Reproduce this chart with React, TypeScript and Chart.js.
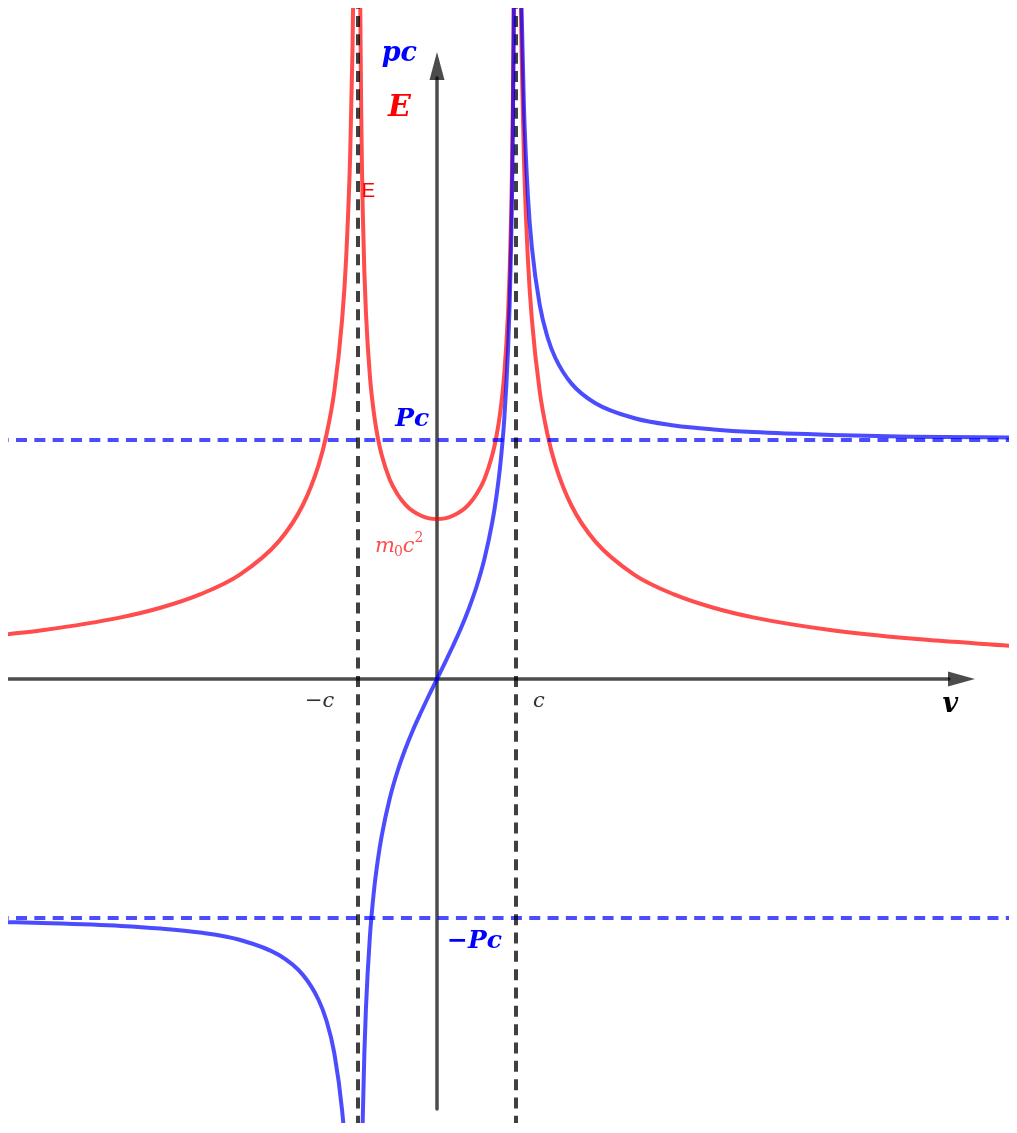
import React, { useEffect, useRef } from "react";
import { Chart, registerables } from "chart.js";
Chart.register(...registerables);

// Units: velocity v in units of c, energy E and momentum pc in units of Pc.
const X_MIN = -5.4304;
const X_MAX = 7.2405;
const Y_MIN = -1.8577;
const Y_MAX = 2.8075;

// |v| < c branch
const vInner = [-0.98, -0.975, -0.97, -0.96, -0.95, -0.94, -0.92, -0.9, -0.85, -0.8, -0.75, -0.7, -0.6, -0.5, -0.4, -0.3, -0.2, -0.1, 0, 0.1, 0.2, 0.3, 0.4, 0.5, 0.6, 0.7, 0.75, 0.8, 0.85, 0.9, 0.92, 0.94, 0.95, 0.96, 0.97, 0.975, 0.98];
const eInner = [3.362, 3.011, 2.752, 2.389, 2.143, 1.961, 1.707, 1.535, 1.27, 1.115, 1.011, 0.937, 0.836, 0.773, 0.73, 0.701, 0.683, 0.672, 0.669, 0.672, 0.683, 0.701, 0.73, 0.773, 0.836, 0.937, 1.011, 1.115, 1.27, 1.535, 1.707, 1.961, 2.143, 2.389, 2.752, 3.011, 3.362];
const pInner = [-3.295, -2.936, -2.669, -2.294, -2.035, -1.843, -1.571, -1.381, -1.08, -0.892, -0.759, -0.656, -0.502, -0.386, -0.292, -0.21, -0.137, -0.067, 0, 0.067, 0.137, 0.21, 0.292, 0.386, 0.502, 0.656, 0.759, 0.892, 1.08, 1.381, 1.571, 1.843, 2.035, 2.294, 2.669, 2.936, 3.295];

// v < -c branch
const vLeft = [-5.5, -5.0, -4.0, -3.5, -3.0, -2.5, -2.0, -1.7, -1.5, -1.4, -1.3, -1.2, -1.15, -1.1, -1.07, -1.05, -1.03];
const eLeft = [0.185, 0.204, 0.258, 0.298, 0.354, 0.436, 0.577, 0.727, 0.894, 1.021, 1.204, 1.508, 1.761, 2.182, 2.627, 3.123, 4.052];
const pLeft = [-1.017, -1.021, -1.033, -1.044, -1.061, -1.091, -1.155, -1.237, -1.342, -1.429, -1.565, -1.809, -2.025, -2.4, -2.811, -3.28, -4.174];

// v > c branch
const vRight = [1.03, 1.05, 1.07, 1.1, 1.15, 1.2, 1.3, 1.4, 1.5, 1.7, 2.0, 2.5, 3.0, 3.5, 4.0, 5.0, 6.0, 7.3];
const eRight = [4.052, 3.123, 2.627, 2.182, 1.761, 1.508, 1.204, 1.021, 0.894, 0.727, 0.577, 0.436, 0.354, 0.298, 0.258, 0.204, 0.169, 0.138];
const pRight = [4.174, 3.28, 2.811, 2.4, 2.025, 1.809, 1.565, 1.429, 1.342, 1.237, 1.155, 1.091, 1.061, 1.044, 1.033, 1.021, 1.014, 1.01];

// asymptotes
const cLines = [-1, 1];
const pcLines = [1, -1];

// axes extents
const X_AXIS_END = 6.81;
const Y_AXIS_START = -1.799;
const Y_AXIS_END = 2.623;

const BLUE = "rgba(0,0,255,0.7)";
const RED = "rgba(255,0,0,0.7)";
const GREY = "rgba(0,0,0,0.7)";
const DASH_GREY = "rgba(0,0,0,0.75)";

const pts = (xs: number[], ys: number[]) => xs.map((x, i) => ({ x, y: ys[i] }));

const curve = (data: any, color: string, order: number) => ({
  data,
  borderColor: color,
  borderWidth: 4,
  pointRadius: 0,
  fill: false,
  cubicInterpolationMode: "monotone",
  order,
});

const axesPlugin = {
  id: "axesPlugin",
  beforeDatasetsDraw(chart: any) {
    const { ctx } = chart;
    const xs = chart.scales.x;
    const ys = chart.scales.y;
    const ox = xs.getPixelForValue(0);
    const oy = ys.getPixelForValue(0);
    const xTip = xs.getPixelForValue(X_AXIS_END);
    const yTip = ys.getPixelForValue(Y_AXIS_END);
    const yBot = ys.getPixelForValue(Y_AXIS_START);
    ctx.save();
    ctx.strokeStyle = GREY;
    ctx.fillStyle = GREY;
    ctx.lineWidth = 3.5;
    ctx.lineCap = "round";
    ctx.beginPath();
    ctx.moveTo(0, oy);
    ctx.lineTo(xTip - 26, oy);
    ctx.stroke();
    ctx.beginPath();
    ctx.moveTo(xTip, oy);
    ctx.lineTo(xTip - 27, oy - 7.5);
    ctx.lineTo(xTip - 27, oy + 7.5);
    ctx.closePath();
    ctx.fill();
    ctx.beginPath();
    ctx.moveTo(ox, yBot);
    ctx.lineTo(ox, yTip + 26);
    ctx.stroke();
    ctx.beginPath();
    ctx.moveTo(ox, yTip);
    ctx.lineTo(ox - 7.5, yTip + 28);
    ctx.lineTo(ox + 7.5, yTip + 28);
    ctx.closePath();
    ctx.fill();
    ctx.restore();
  },
};

const SERIF = "'DejaVu Serif', 'Liberation Serif', serif";

const labelsPlugin = {
  id: "labelsPlugin",
  afterDatasetsDraw(chart: any) {
    const { ctx } = chart;
    const xs = chart.scales.x;
    const ys = chart.scales.y;
    const P = (x: number, y: number) => [xs.getPixelForValue(x), ys.getPixelForValue(y)];
    const text = (s: string, x: number, y: number, font: string, color: string) => {
      const [px, py] = P(x, y);
      ctx.font = font;
      ctx.fillStyle = color;
      ctx.fillText(s, px, py);
    };
    ctx.save();
    ctx.textAlign = "left";
    ctx.textBaseline = "alphabetic";
    text("pc", -0.7, 2.586, `bold italic 27px ${SERIF}`, "#0000ff");
    text("E", -0.62, 2.354, `bold italic 30px ${SERIF}`, "#ff0000");
    text("E", -0.952, 2.017, `20px 'Liberation Sans', 'DejaVu Sans', sans-serif`, "#ff0000");
    text("Pc", -0.53, 1.059, `bold italic 25px ${SERIF}`, "#0000ff");
    text("\u2212Pc", 0.127, -1.126, `bold italic 25px ${SERIF}`, "#0000ff");
    text("\u2212c", -1.671, -0.117, `italic 21px ${SERIF}`, "#333333");
    text("c", 1.215, -0.117, `italic 21px ${SERIF}`, "#333333");
    text("v", 6.4, -0.138, `bold italic 27px ${SERIF}`, "#000000");
    // m0c^2
    const [mx, my] = P(-0.785, 0.531);
    ctx.fillStyle = "rgba(255,0,0,0.7)";
    let cx = mx;
    ctx.font = `italic 21px ${SERIF}`;
    ctx.fillText("m", cx, my);
    cx += ctx.measureText("m").width - 1;
    ctx.font = `14px ${SERIF}`;
    ctx.fillText("0", cx, my + 4);
    cx += ctx.measureText("0").width;
    ctx.font = `italic 21px ${SERIF}`;
    ctx.fillText("c", cx, my);
    cx += ctx.measureText("c").width;
    ctx.font = `14px ${SERIF}`;
    ctx.fillText("2", cx, my - 10);
    ctx.restore();
  },
};

export default function App() {
  const ref = useRef<HTMLCanvasElement | null>(null);
  useEffect(() => {
    if (!ref.current) return;
    const dashOffset = 10.33;
    const datasets: any[] = [
      curve(pts(vLeft, eLeft), RED, 5),
      curve(pts(vInner, eInner), RED, 5),
      curve(pts(vRight, eRight), RED, 5),
      curve(pts(vLeft, pLeft), BLUE, 1),
      curve(pts(vInner, pInner), BLUE, 1),
      curve(pts(vRight, pRight), BLUE, 1),
      ...cLines.map((c) => ({
        data: [
          { x: c, y: Y_MAX },
          { x: c, y: Y_MIN },
        ],
        borderColor: DASH_GREY,
        borderWidth: 4,
        borderDash: [11, 7.33],
        borderDashOffset: dashOffset,
        pointRadius: 0,
        tension: 0,
        order: 3,
      })),
      ...pcLines.map((p) => ({
        data: [
          { x: X_MIN, y: p },
          { x: X_MAX, y: p },
        ],
        borderColor: BLUE,
        borderWidth: 4,
        borderDash: [11, 7.33],
        borderDashOffset: dashOffset,
        pointRadius: 0,
        tension: 0,
        order: 4,
      })),
    ];
    const chart = new Chart(ref.current, {
      type: "scatter",
      data: { datasets },
      options: {
        animation: false,
        responsive: false,
        devicePixelRatio: 1,
        showLine: true,
        layout: { padding: 0 },
        plugins: { legend: { display: false }, tooltip: { enabled: false } },
        events: [],
        scales: {
          x: { type: "linear", min: X_MIN, max: X_MAX, display: false },
          y: { type: "linear", min: Y_MIN, max: Y_MAX, display: false },
        },
      } as any,
      plugins: [axesPlugin, labelsPlugin],
    });
    return () => chart.destroy();
  }, []);
  return (
    <div
      style={{
        position: "relative",
        width: 1001,
        height: 1115,
        background: "#fff",
        boxShadow: "1px 1px 8px 1px rgba(0,0,0,0.3)",
      }}
    >
      <canvas ref={ref} width={1001} height={1115} style={{ display: "block" }} />
    </div>
  );
}
